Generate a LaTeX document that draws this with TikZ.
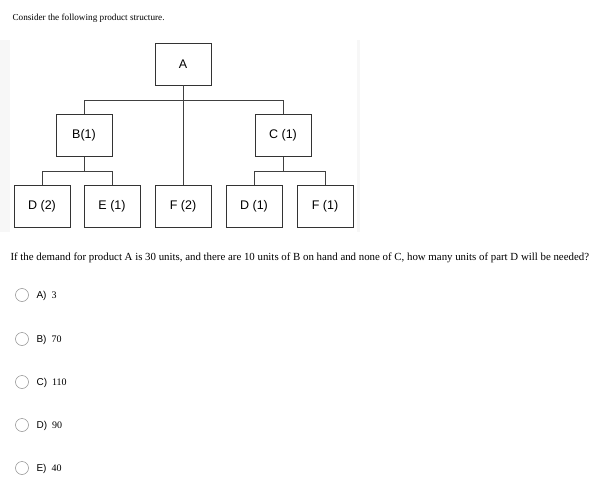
\documentclass[tikz,border=0pt]{standalone}
\usepackage{fontspec}
\setmainfont{Liberation Serif}
\setsansfont{Liberation Sans}
\begin{document}
\begin{tikzpicture}[x=1pt,y=-1pt,
  bx/.style={draw=black!80,line width=0.6pt,minimum width=56pt,minimum height=42pt,font=\sffamily\fontsize{12.5}{14}\selectfont,inner sep=0pt},
  ln/.style={draw=black!75,line width=0.6pt},
  rad/.style={circle,draw=black!45,fill=white,line width=0.5pt,minimum size=13pt,inner sep=0pt},
  opt/.style={anchor=west,font=\sffamily\fontsize{10}{12}\selectfont}]
\useasboundingbox[fill=white] (0,0) rectangle (605,487);
\fill[black!3] (0,40) rectangle (360,232);
\fill[white] (10,40) rectangle (357,232);
\node[anchor=west,font=\fontsize{9.2}{11}\selectfont] (t) at (9,18) {Consider the following product structure.};
\node[bx] (A) at (183,64) {A};
\node[bx] (B) at (84,135.5) {B(1)};
\node[bx] (C) at (283,135.5) {C (1)};
\node[bx] (D2) at (42,206) {D (2)};
\node[bx] (E1) at (112,206) {E (1)};
\node[bx] (F2) at (183,206) {F (2)};
\node[bx] (D1) at (254,206) {D (1)};
\node[bx] (F1) at (325,206) {F (1)};
\draw[ln] (A.south) -- (F2.north);
\draw[ln] (B.north) |- (A.south |- 0,100.5) -| (C.north);
\draw[ln] (B.south) -- (B.south |- 0,171.5);
\draw[ln] (D2.north) |- (B.south |- 0,171.5) -| (E1.north);
\draw[ln] (C.south) -- (C.south |- 0,171.5);
\draw[ln] (D1.north) |- (C.south |- 0,171.5) -| (F1.north);
\node[anchor=west,font=\fontsize{10.85}{12}\selectfont] (q) at (7,258) {If the demand for product A is 30 units, and there are 10 units of B on hand and none of C, how many units of part D will be needed?};
\node[rad] (r1) at (22,295) {}; \node[opt] (o1) at (33,296) {A)\enspace{\rmfamily 3}};
\node[rad] (r2) at (22,339) {}; \node[opt] (o2) at (33,340) {B)\enspace{\rmfamily 70}};
\node[rad] (r3) at (22,382) {}; \node[opt] (o3) at (33,383) {C)\enspace{\rmfamily 110}};
\node[rad] (r4) at (22,425) {}; \node[opt] (o4) at (33,426) {D)\enspace{\rmfamily 90}};
\node[rad] (r5) at (22,468) {}; \node[opt] (o5) at (33,469) {E)\enspace{\rmfamily 40}};
\end{tikzpicture}
\end{document}
